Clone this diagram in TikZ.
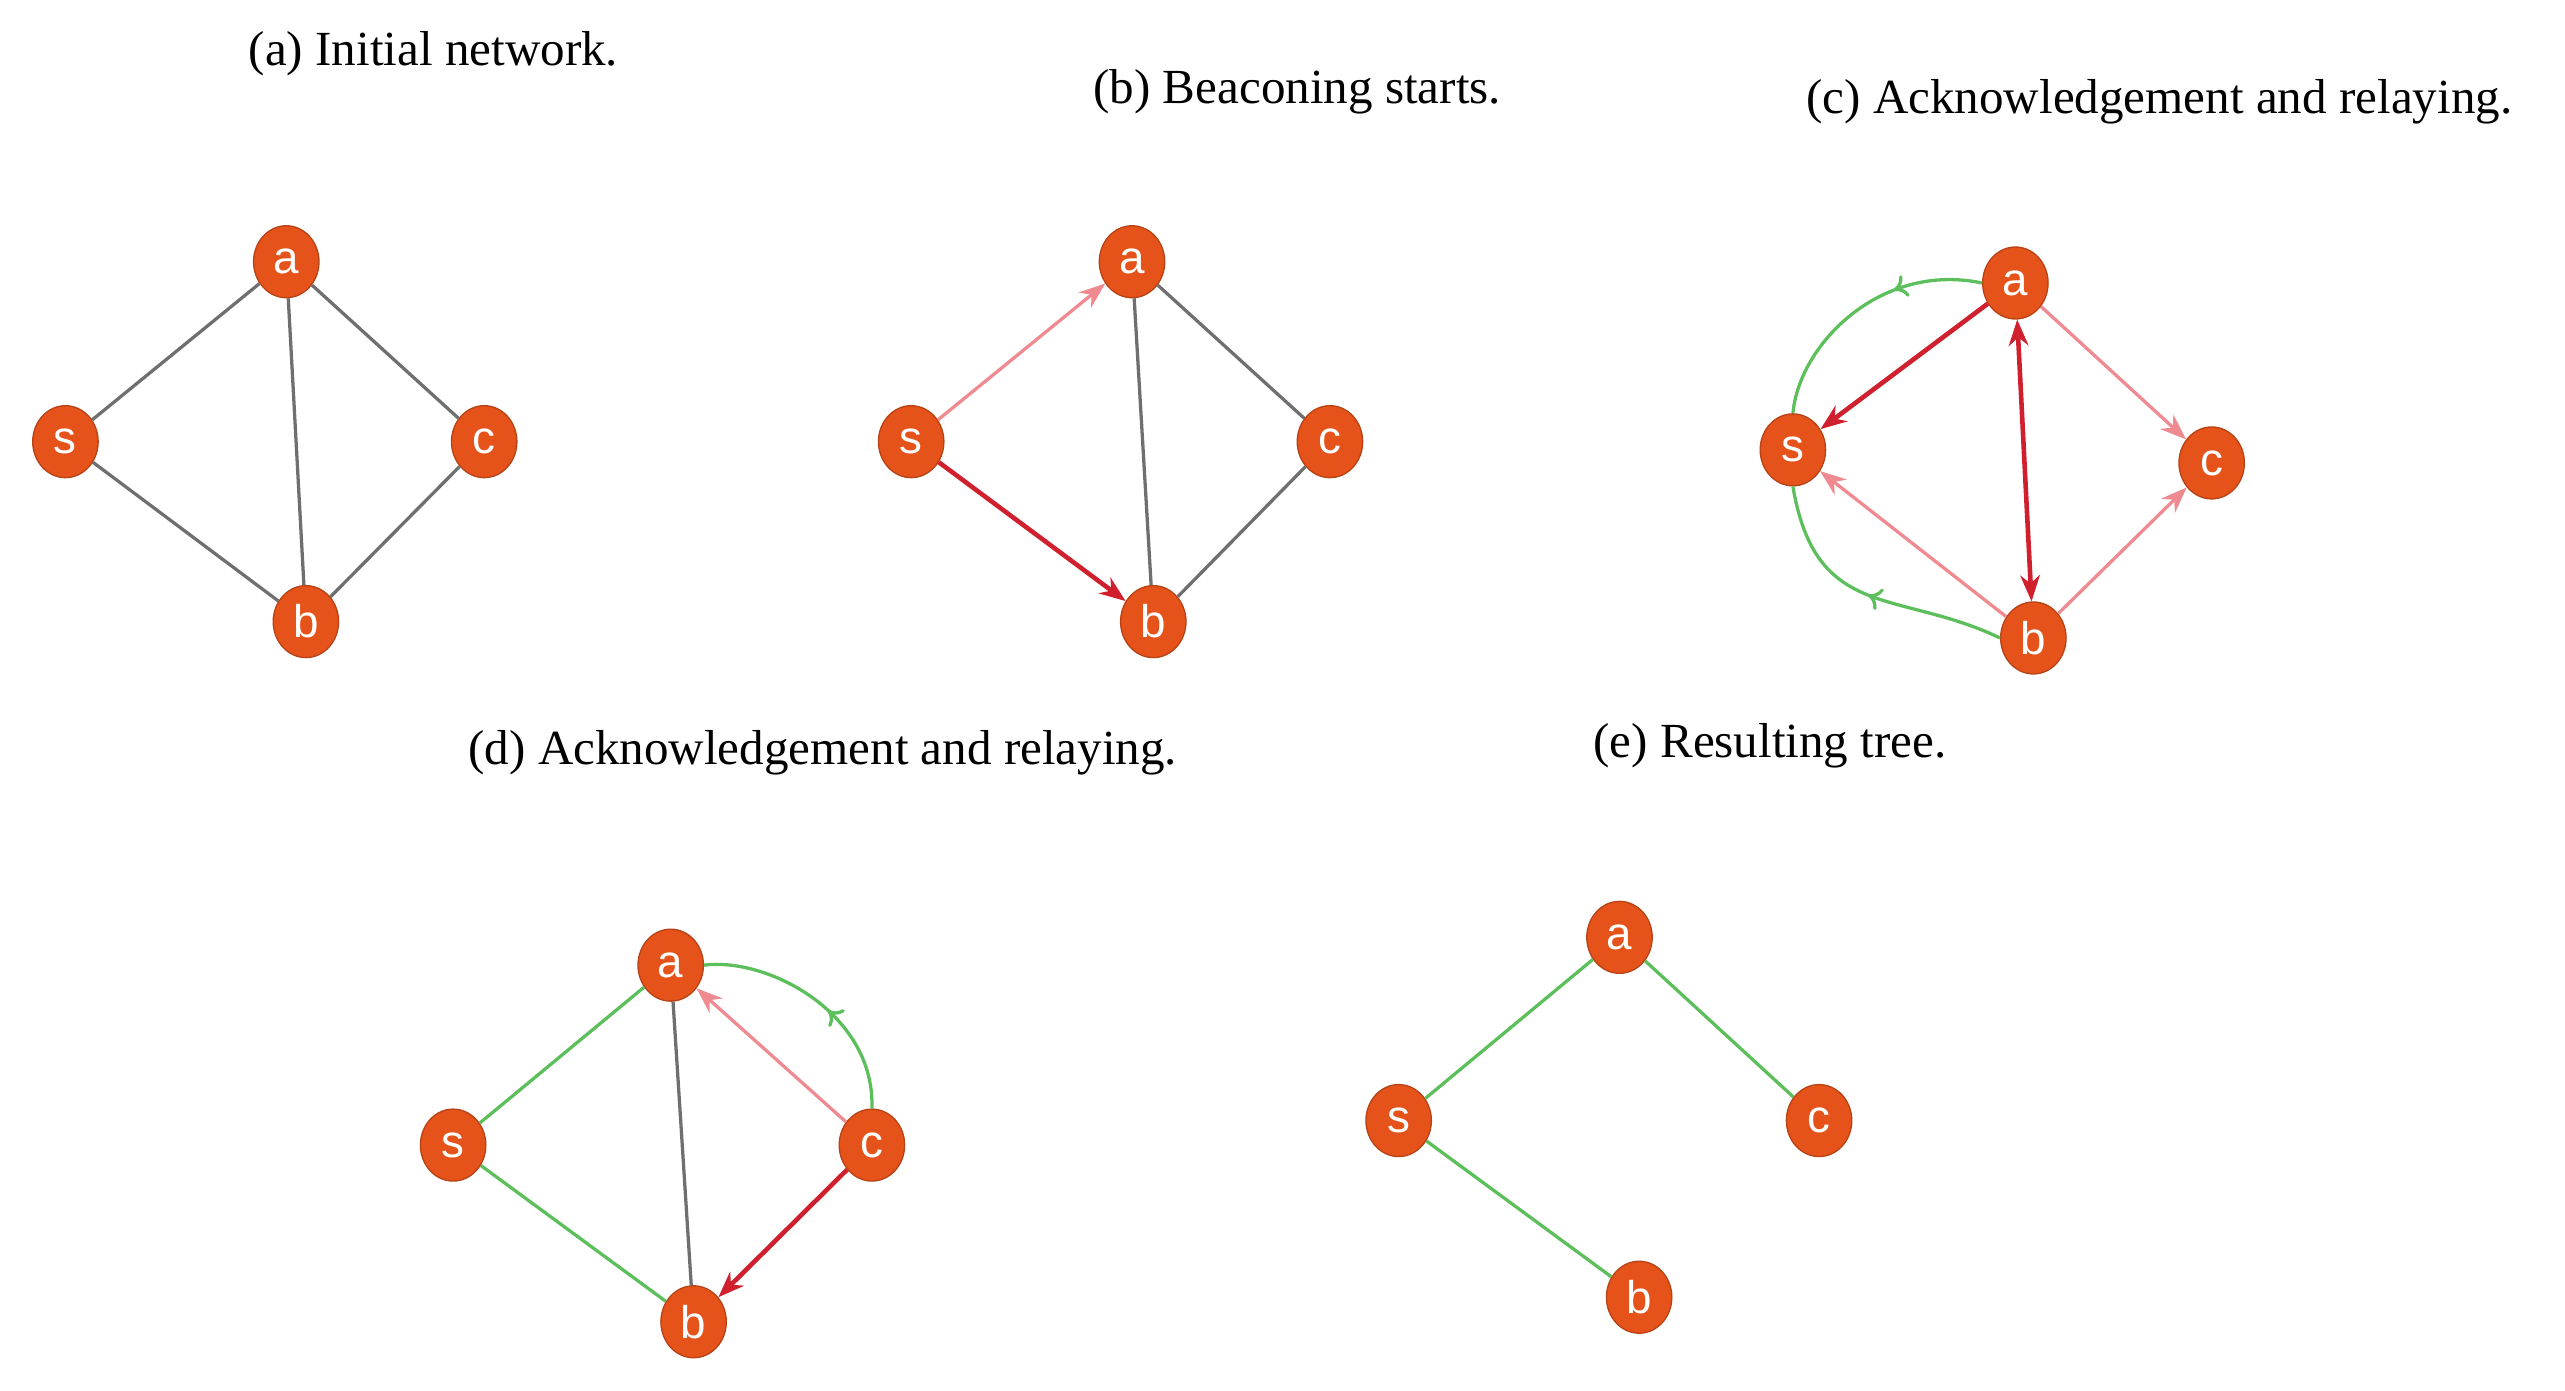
\documentclass[tikz,border=0pt]{standalone}
\usepackage{fontspec}
\setmainfont{Liberation Serif}
\newfontfamily\nodefont{Liberation Sans}
\usetikzlibrary{shapes.geometric,arrows.meta,decorations.markings}
\definecolor{nodeor}{HTML}{E5531A}
\definecolor{lred}{HTML}{EE8A90}
\definecolor{dred}{HTML}{D0202E}
\definecolor{gedge}{HTML}{6F6F6F}
\definecolor{gr}{HTML}{5CBF5C}
\tikzset{
 nd/.style={ellipse,fill=nodeor,draw=nodeor!80!black,line width=0.8pt,text=white,minimum width=40pt,minimum height=44pt,inner sep=0pt,font=\nodefont\fontsize{28}{28}\selectfont},
 ttl/.style={font=\fontsize{30}{32}\selectfont},
 gray/.style={draw=gedge,line width=2pt},
 lr/.style={draw=lred,line width=2pt,-{Stealth[length=16pt,width=12pt]}},
 dr/.style={draw=dred,line width=2.8pt,-{Stealth[length=16pt,width=12pt]}},
 ge/.style={draw=gr,line width=2pt},
 gc/.style={draw=gr,line width=2pt,postaction={decorate},decoration={markings,mark=at position #1 with {\arrow{To[length=8pt,width=14pt]}}}}
}
\begin{document}
\begin{tikzpicture}[x=1pt,y=-1pt]
\useasboundingbox (0,0) rectangle (1568,850);
% titles
\node[ttl] (ta) at (265,33) {(a) Initial network.};
\node[ttl] (tb) at (793,56) {(b) Beaconing starts.};
\node[ttl] (tc) at (1320,62) {(c) Acknowledgement and relaying.};
\node[ttl] (td) at (503,460) {(d) Acknowledgement and relaying.};
\node[ttl] (te) at (1082,456) {(e) Resulting tree.};
% (a)
\node[nd] (a1) at (175,160) {a};
\node[nd] (s1) at (40,270) {s};
\node[nd] (c1) at (296,270) {c};
\node[nd] (b1) at (187,380) {b};
\begin{scope}[on background layer/.style={}]
\end{scope}
\draw[gray] (a1)--(s1); \draw[gray] (a1)--(c1); \draw[gray] (a1)--(b1);
\draw[gray] (s1)--(b1); \draw[gray] (c1)--(b1);
% (b)
\node[nd] (a2) at (692,160) {a};
\node[nd] (s2) at (557,270) {s};
\node[nd] (c2) at (813,270) {c};
\node[nd] (b2) at (705,380) {b};
\draw[lr] (s2)--(a2); \draw[dr] (s2)--(b2);
\draw[gray] (a2)--(b2); \draw[gray] (a2)--(c2); \draw[gray] (b2)--(c2);
% (c)
\node[nd] (a3) at (1232,173) {a};
\node[nd] (s3) at (1096,275) {s};
\node[nd] (c3) at (1352,283) {c};
\node[nd] (b3) at (1243,390) {b};
\draw[dr] (a3)--(s3);
\draw[dr,{Stealth[length=16pt,width=12pt]}-{Stealth[length=16pt,width=12pt]}] (a3)--(b3);
\draw[lr] (a3)--(c3); \draw[lr] (b3)--(s3); \draw[lr] (b3)--(c3);
\draw[gc=0.35] (a3.west) .. controls (1150,160) and (1100,210) .. (s3.north);
\draw[gc=0.5] (b3.west) .. controls (1160,360) and (1110,380) .. (s3.south);
% (d)
\node[nd] (a4) at (410,590) {a};
\node[nd] (s4) at (277,700) {s};
\node[nd] (c4) at (533,700) {c};
\node[nd] (b4) at (424,808) {b};
\draw[ge] (a4)--(s4); \draw[ge] (s4)--(b4); \draw[gray] (a4)--(b4);
\draw[lr] (c4)--(a4); \draw[dr] (c4)--(b4);
\draw[gc=0.45] (c4.north) .. controls (535,620) and (470,585) .. (a4.east);
% (e)
\node[nd] (a5) at (990,573) {a};
\node[nd] (s5) at (855,685) {s};
\node[nd] (c5) at (1112,685) {c};
\node[nd] (b5) at (1002,793) {b};
\draw[ge] (a5)--(s5); \draw[ge] (a5)--(c5); \draw[ge] (s5)--(b5);
\end{tikzpicture}
\end{document}
